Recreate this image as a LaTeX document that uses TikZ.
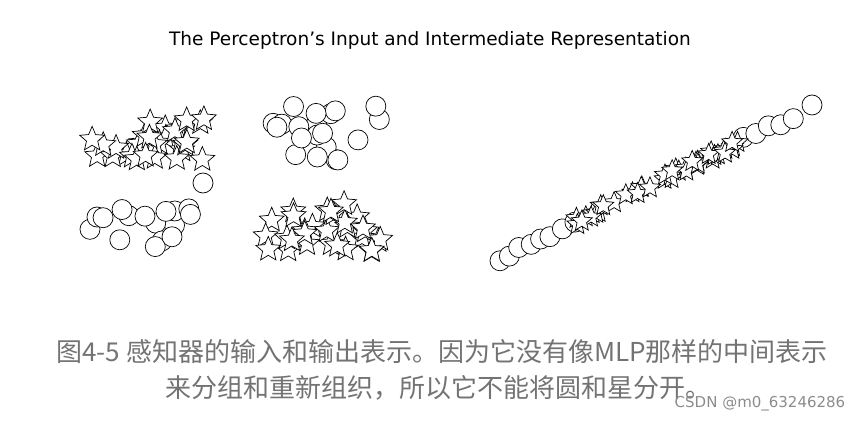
\documentclass[tikz,border=0pt]{standalone}
\usepackage{fontspec}
\setmainfont{DejaVu Sans}
\newfontfamily\cjk{Noto Sans CJK SC}
\usetikzlibrary{shapes.geometric}
\begin{document}
\begin{tikzpicture}[x=1pt,y=-1pt,
  circ/.style={circle,draw,fill=white,line width=0.7pt,minimum size=20pt,inner sep=0pt},
  st/.style={star,star points=5,star point ratio=2.2,draw,fill=white,line width=0.7pt,minimum size=26pt,inner sep=0pt}]
\useasboundingbox (0,0) rectangle (865,422);
\node[font=\fontsize{18.5}{20}\selectfont] (title) at (430,40) {The Perceptron's Input and Intermediate Representation};
\pgfmathsetseed{7}
% top-left stars
\foreach \i in {1,...,30}{\pgfmathsetmacro\px{150+72*rand}\pgfmathsetmacro\py{138+22*rand}\node[st] at (\px,\py) {};}
% top-right circles
\foreach \i in {1,...,20}{\pgfmathsetmacro\px{330+60*rand}\pgfmathsetmacro\py{133+27*rand}\node[circ] at (\px,\py) {};}
\node[circ] at (203,183) {};
% bottom-left circles
\foreach \i in {1,...,16}{\pgfmathsetmacro\px{150+70*rand}\pgfmathsetmacro\py{228+20*rand}\node[circ] at (\px,\py) {};}
% bottom-right stars
\foreach \i in {1,...,30}{\pgfmathsetmacro\px{322+60*rand}\pgfmathsetmacro\py{228+26*rand}\node[st] at (\px,\py) {};}
% right panel diagonal
\foreach \t in {0,0.03,0.06,0.1,0.13,0.16,0.2,0.24,0.78,0.82,0.86,0.9,0.94,1}{\pgfmathsetmacro\px{500+312*\t}\pgfmathsetmacro\py{258-151*\t+3*rand}\node[circ] at (\px,\py) {};}
\foreach \i in {1,...,45}{\pgfmathsetmacro\t{0.5+0.27*rand}\pgfmathsetmacro\px{500+312*\t}\pgfmathsetmacro\py{258-151*\t+4*rand}\node[st,minimum size=22pt] at (\px,\py) {};}
\node[font=\cjk\fontsize{26}{30}\selectfont,text=black!55] (c1) at (442,352) {图4-5 感知器的输入和输出表示。因为它没有像MLP那样的中间表示};
\node[font=\cjk\fontsize{26}{30}\selectfont,text=black!55] (c2) at (438,388) {来分组和重新组织，所以它不能将圆和星分开。};
\node[font=\fontsize{15}{16}\selectfont,text=black!45] (wm) at (760,404) {CSDN @m0\_63246286};
\end{tikzpicture}
\end{document}
